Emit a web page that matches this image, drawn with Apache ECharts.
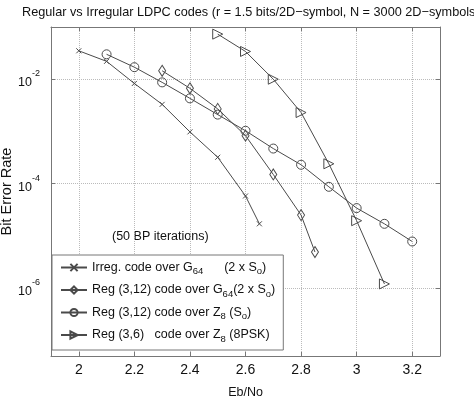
<!DOCTYPE html>
<html>
<head>
<meta charset="utf-8">
<script src="https://cdn.jsdelivr.net/npm/echarts@6/dist/echarts.min.js"></script>
<style>
  html, body { margin: 0; padding: 0; background: #fff; }
  #chart { width: 474px; height: 399px; }
</style>
</head>
<body>
<div id="chart"></div>
<script>
// Eb/No (dB) and bit error rate for each code
var ebIrreg = [2.0, 2.1, 2.2, 2.3, 2.4, 2.5, 2.6, 2.65]
var berIrreg = [3.5e-2, 2.2e-2, 8.3e-3, 3.3e-3, 9.8e-4, 3.2e-4, 5.8e-5, 1.7e-5]

var ebRegG64 = [2.3, 2.4, 2.5, 2.6, 2.7, 2.8, 2.85]
var berRegG64 = [1.45e-2, 6.7e-3, 2.7e-3, 8.3e-4, 1.5e-4, 2.5e-5, 4.9e-6]

var ebRegZ8 = [2.1, 2.2, 2.3, 2.4, 2.5, 2.6, 2.7, 2.8, 2.9, 3.0, 3.1, 3.2]
var berRegZ8 = [3.0e-2, 1.7e-2, 8.7e-3, 4.3e-3, 2.1e-3, 1.03e-3, 4.7e-4, 2.3e-4, 8.7e-5, 3.4e-5, 1.7e-5, 7.8e-6]

var eb8psk = [2.5, 2.6, 2.7, 2.8, 2.9, 3.0, 3.1]
var ber8psk = [7.3e-2, 3.4e-2, 1.0e-2, 2.3e-3, 2.4e-4, 1.95e-5, 1.2e-6]

var xTicks = [2, 2.2, 2.4, 2.6, 2.8, 3, 3.2]
var yTicks = [1e-2, 1e-4, 1e-6]

var seriesNames = [
  'Irreg. code over G64 (2 x So)',
  'Reg (3,12) code over G64(2 x So)',
  'Reg (3,12) code over Z8 (So)',
  'Reg (3,6) code over Z8 (8PSK)'
]
var legendLabels = [
  'Irreg. code over G{sub|64}      (2 x S{sub|o})',
  'Reg (3,12) code over G{sub|64}(2 x S{sub|o})',
  'Reg (3,12) code over Z{sub|8} (S{sub|o})',
  'Reg (3,6)   code over Z{sub|8} (8PSK)'
]

var FONT = '"Liberation Sans", Arial, sans-serif'
var INK = '#4a4a4a'

function pairs(xs, ys) {
  var out = []
  for (var i = 0; i < xs.length; i++) out.push([xs[i], ys[i]])
  return out
}

function makeSeries(name, xs, ys, symbol, size, rotate) {
  return {
    name: name,
    type: 'line',
    data: pairs(xs, ys),
    symbol: symbol,
    symbolSize: size,
    symbolRotate: rotate || 0,
    showAllSymbol: true,
    lineStyle: { color: INK, width: 1 },
    itemStyle: { color: 'rgba(0,0,0,0)', borderColor: INK, borderWidth: 1 },
    emphasis: { disabled: true },
    animation: false
  }
}

var chart = echarts.init(document.getElementById('chart'))

var option = {
  animation: false,
  title: {
    text: 'Regular vs Irregular LDPC codes (r = 1.5 bits/2D\u2212symbol, N = 3000 2D\u2212symbols)',
    left: 17,
    top: 1,
    textStyle: { fontFamily: FONT, fontSize: 12.7, fontWeight: 'normal', color: '#111' }
  },
  grid: { left: 51, right: 34, top: 27, bottom: 43, containLabel: false, outerBoundsMode: 'none' },
  xAxis: [
    {
      type: 'value',
      min: 1.9,
      max: 3.3,
      name: 'Eb/No',
      nameLocation: 'middle',
      nameGap: 30,
      nameMoveOverlap: false,
      nameTextStyle: { fontFamily: FONT, fontSize: 12.5, color: '#111' },
      axisLine: { lineStyle: { color: '#777' } },
      axisTick: { inside: true, length: 4, customValues: xTicks, lineStyle: { color: '#777' } },
      axisLabel: { customValues: xTicks, margin: 7, fontFamily: FONT, fontSize: 14, color: '#111' },
      splitLine: { show: true, customValues: xTicks, lineStyle: { type: 'dotted', color: '#bbb' } }
    },
    {
      type: 'value',
      position: 'top',
      min: 1.9,
      max: 3.3,
      axisLine: { show: true, lineStyle: { color: '#777' } },
      axisTick: { show: true, inside: true, length: 4, customValues: xTicks, lineStyle: { color: '#777' } },
      axisLabel: { show: false },
      splitLine: { show: false }
    }
  ],
  yAxis: [
    {
      type: 'log',
      logBase: 10,
      min: 5e-8,
      max: 0.1,
      name: 'Bit Error Rate',
      nameLocation: 'middle',
      nameGap: 37,
      nameMoveOverlap: false,
      nameTextStyle: { fontFamily: FONT, fontSize: 14.5, color: '#111' },
      axisLine: { show: true, lineStyle: { color: '#777' } },
      axisTick: { show: true, inside: true, length: 4, customValues: yTicks, lineStyle: { color: '#777' } },
      axisLabel: {
        customValues: yTicks,
        margin: 11,
        align: 'right',
        formatter: function (v) {
          return '{b|10}{s|' + Math.round(Math.log10(v)) + '}'
        },
        rich: {
          b: { fontFamily: FONT, fontSize: 12.5, color: '#111', lineHeight: 20, verticalAlign: 'bottom' },
          s: { fontFamily: FONT, fontSize: 9, color: '#111', lineHeight: 12, verticalAlign: 'top' }
        }
      },
      splitLine: { show: true, customValues: yTicks, lineStyle: { type: 'dotted', color: '#bbb' } }
    },
    {
      type: 'log',
      logBase: 10,
      min: 5e-8,
      max: 0.1,
      position: 'right',
      axisLine: { show: true, lineStyle: { color: '#777' } },
      axisTick: { show: true, inside: true, length: 4, customValues: yTicks, lineStyle: { color: '#777' } },
      axisLabel: { show: false },
      splitLine: { show: false }
    }
  ],
  legend: {
    orient: 'vertical',
    left: 52,
    top: 255,
    padding: [6, 8, 6, 8],
    itemGap: 7,
    itemWidth: 26,
    itemHeight: 9,
    backgroundColor: '#fff',
    borderColor: '#777',
    borderWidth: 1,
    data: seriesNames,
    formatter: function (name) {
      return legendLabels[seriesNames.indexOf(name)]
    },
    textStyle: {
      fontFamily: FONT,
      fontSize: 12.5,
      color: '#111',
      rich: {
        sub: { fontFamily: FONT, fontSize: 9.5, color: '#111', padding: [8, 0, 0, 0] }
      }
    }
  },
  graphic: [
    {
      type: 'text',
      left: 112,
      top: 230,
      style: { text: '(50 BP iterations)', font: '12.5px ' + FONT, fill: '#111' }
    }
  ],
  series: [
    makeSeries(seriesNames[0], ebIrreg, berIrreg, 'path://M0,0L10,10M10,0L0,10', 5),
    makeSeries(seriesNames[1], ebRegG64, berRegG64, 'diamond', [7, 11]),
    makeSeries(seriesNames[2], ebRegZ8, berRegZ8, 'circle', 9),
    makeSeries(seriesNames[3], eb8psk, ber8psk, 'triangle', 10, -90)
  ]
}

chart.setOption(option)
</script>
</body>
</html>
